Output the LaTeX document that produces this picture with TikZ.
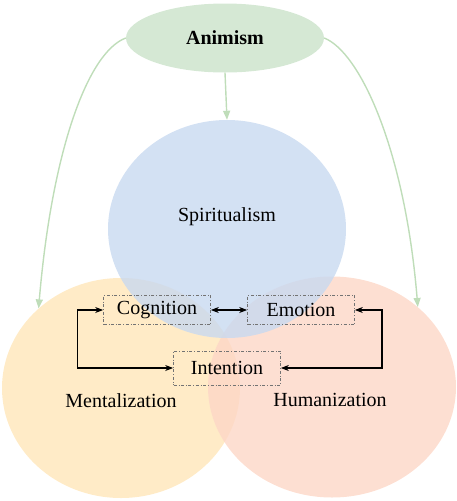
\documentclass[tikz,border=0pt]{standalone}
\usepackage{fontspec}
\setmainfont{Liberation Serif}
\usetikzlibrary{arrows.meta,positioning,shapes.geometric}
\definecolor{leaf}{HTML}{D5E8D4}
\definecolor{leafline}{HTML}{BFDDB9}
\definecolor{sky}{HTML}{C8D9F0}
\definecolor{sand}{HTML}{FFE6B9}
\definecolor{peach}{HTML}{FDD7C7}

\begin{document}
\begin{tikzpicture}[
  x=1pt, y=-1pt,
  every node/.style={font=\fontsize{20}{24}\selectfont},
  sphere/.style={ellipse, fill opacity=0.8, inner sep=0pt},
  facet/.style={draw=black!55, dash dot, line width=0.7pt, minimum width=107pt, minimum height=29pt, inner sep=0pt},
  arr/.style={{Stealth[length=8pt,width=6pt]}-{Stealth[length=8pt,width=6pt]}, line width=1.3pt},
  feed/.style={-{Triangle[length=9pt,width=7pt]}, draw=leafline, line width=1.4pt}
]
\useasboundingbox (0,0) rectangle (457,501);

% overlapping fields
\node[sphere, fill=sand, minimum width=238pt, minimum height=220pt] (ment) at (121,388) {};
\node[sphere, fill=peach, minimum width=248pt, minimum height=221pt] (human) at (332,387) {};
\node[sphere, fill=sky, minimum width=238pt, minimum height=218pt] (spirit) at (227,229) {};

\node[ellipse, fill=leaf, minimum width=198pt, minimum height=69pt, inner sep=0pt] (anim) at (225,38) {\textbf{Animism}};

\node (spiritlbl) at (227,217) {Spiritualism};
\node (mentlbl) at (121,401) {Mentalization};
\node (humanlbl) at (330,400) {Humanization};

\node[facet] (cog) at (157,310) {Cognition};
\node[facet] (emo) at (301,310) {Emotion};
\node[facet, minimum height=34pt] (int) at (227,368) {Intention};

\draw[feed] (anim.west) .. controls (88,52) and (52,150) .. (ment.136);
\draw[feed] (anim.south) -- (spirit.north);
\draw[feed] (anim.east) .. controls (360,52) and (405,150) .. (human.43);

\draw[arr] (cog.east) -- (emo.west);
\draw[arr] (cog.west) -- ++(-26,0) |- (int.west);
\draw[arr] (emo.east) -- ++(27,0) |- (int.east);
\end{tikzpicture}
\end{document}
